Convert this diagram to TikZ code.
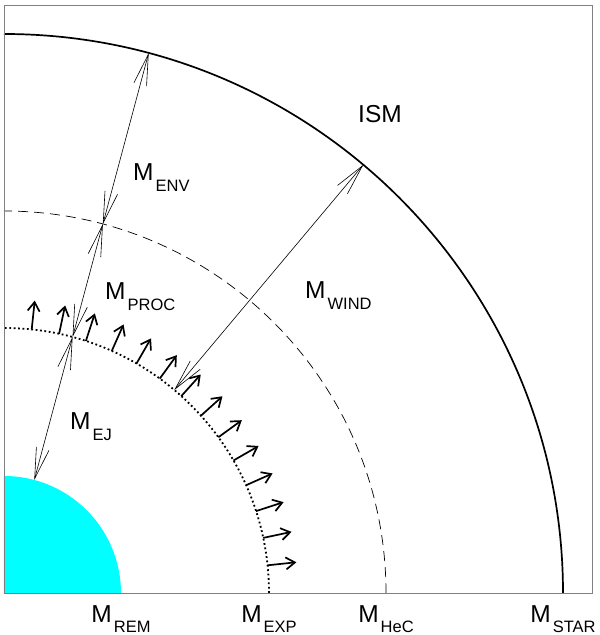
\documentclass[tikz,border=0pt]{standalone}
\usepackage{fontspec}
\setmainfont{Liberation Sans}
\usetikzlibrary{arrows.meta}

\def\rrem{117}
\def\rexp{265}
\def\rhec{382}
\def\rstar{559}
\definecolor{remnant}{RGB}{0,255,255}
\newcommand\massname[1]{M\kern2pt\raisebox{-11pt}{\fontsize{16.5}{16.5}\selectfont #1}}

\tikzset{
  label/.style = {inner sep=0pt, font=\fontsize{24.5}{24.5}\selectfont},
  span/.style  = {line width=0.6pt, {Straight Barb[length=31pt,width=13pt]}-{Straight Barb[length=31pt,width=13pt]}},
  flow/.style  = {line width=1.7pt, -{Straight Barb[length=9pt,width=12pt]}},
}

\begin{document}
\begin{tikzpicture}[x=1pt, y=1pt]
    \useasboundingbox (-4,-42) rectangle (596,593);
    % Remnant and shells
    \fill[remnant] (0,0) -- (\rrem,0) arc (0:90:\rrem) -- cycle;
    \draw[line width=1.8pt, dash pattern=on 1.8pt off 2.6pt] (\rexp,0) arc (0:90:\rexp);
    \draw[line width=0.7pt, dash pattern=on 10pt off 6pt] (\rhec,0) arc (0:90:\rhec);
    \draw[line width=1.7pt] (\rstar,0) arc (0:90:\rstar);
    \draw[gray, line width=0.8pt] (0,0) rectangle (588,588);
    % Ejected material flowing out
    \foreach \a in {6,12,...,84} {
        \coordinate (f\a) at (\a:\rexp);
        \coordinate (g\a) at (\a:{\rexp+29});
        \draw[flow] (f\a) -- (g\a);
    }
    % Mass spans along the radius
    \coordinate (rem) at (75:\rrem);
    \coordinate (exp) at (75:\rexp);
    \coordinate (hec) at (75:\rhec);
    \coordinate (star) at (75:\rstar);
    \coordinate (wexp) at (50:\rexp);
    \coordinate (wstar) at (50:\rstar);
    \draw[span] (hec) -- (star);
    \draw[span] (exp) -- (hec);
    \draw[span] (rem) -- (exp);
    \draw[span] (wexp) -- (wstar);
    % Labels
    \node[label, anchor=base west] (env) at (129,412) {\massname{ENV}};
    \node[label, anchor=base west] (proc) at (101,293) {\massname{PROC}};
    \node[label, anchor=base west] (ej) at (66,163) {\massname{EJ}};
    \node[label, anchor=base west] (wind) at (301,294) {\massname{WIND}};
    \node[label, anchor=base west] (ism) at (354,470) {ISM};
    \foreach \r/\name in {\rrem/REM, \rexp/EXP, \rhec/HeC, \rstar/STAR} {
        \node[label, anchor=base] (m\name) at (\r,-29) {\massname{\name}};
    }
\end{tikzpicture}
\end{document}
